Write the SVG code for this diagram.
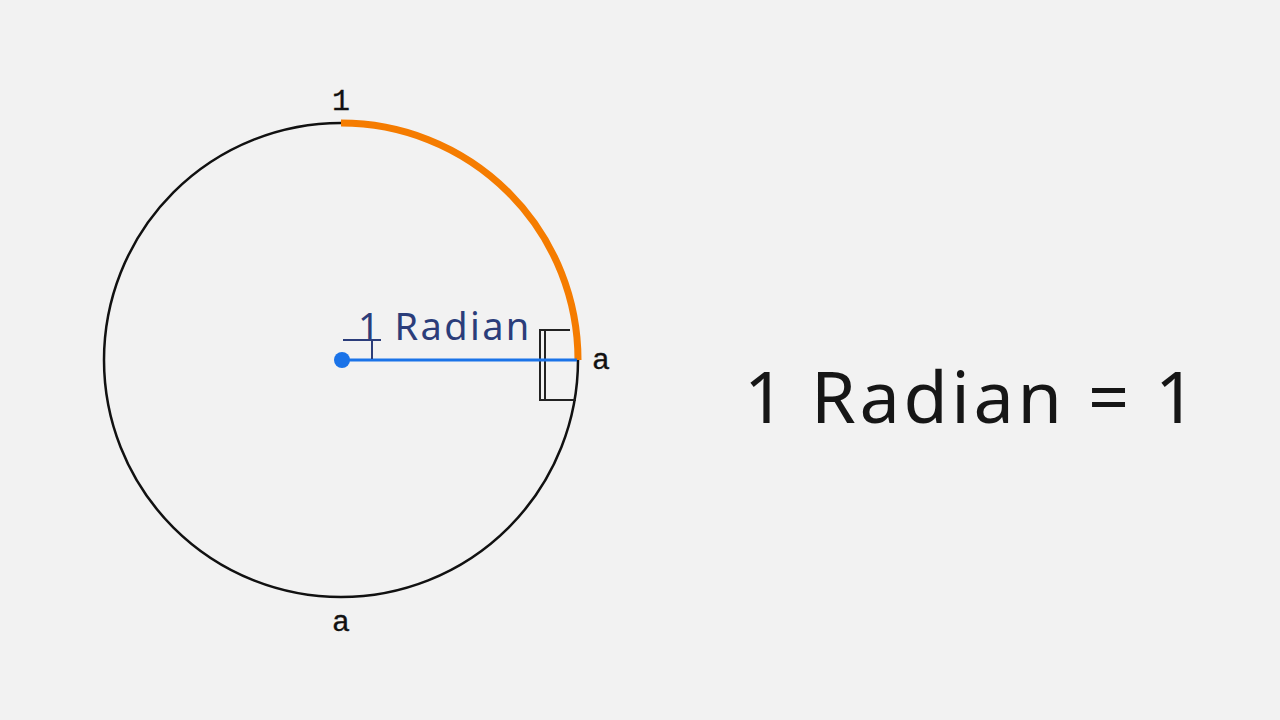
<svg xmlns="http://www.w3.org/2000/svg" width="1280" height="720" viewBox="0 0 1280 720">
<style>
.lbl{font-family:"Liberation Mono",monospace;fill:#111;stroke:#111;stroke-width:0.35px;font-size:30px;text-anchor:middle}
.big{font-family:"Noto Sans","Open Sans",sans-serif;fill:#161616;font-size:72px;letter-spacing:3.6px}
.rad{font-family:"Noto Sans","Open Sans",sans-serif;fill:#2b3d7a;font-size:38px;letter-spacing:2.4px}
</style>
<rect width="1280" height="720" fill="#f2f2f2"/>
<g id="circle">
<circle cx="341" cy="360" r="237" fill="none" stroke="#111" stroke-width="2.5"/>
</g>
<g id="arc">
<path d="M341 123 A237 237 0 0 1 578 360" fill="none" stroke="#f57c00" stroke-width="7"/>
</g>
<g id="bracket" fill="none" stroke="#222" stroke-width="2">
<path d="M570 330 H540 V400 H576"/>
<path d="M545 330 V400"/>
</g>
<g id="radius">
<line x1="342" y1="360" x2="577" y2="360" stroke="#1a73e8" stroke-width="3"/>
<circle cx="342" cy="360" r="8" fill="#1a73e8"/>
</g>
<g id="radian-label">
<text class="rad" x="358" y="340">1 Radian</text>
<path d="M343 340 H381 M372 340 V359" stroke="#2b3d7a" stroke-width="2" fill="none"/>
</g>
<g id="labels">
<text class="lbl" x="341" y="110">1</text>
<text class="lbl" x="601" y="369">a</text>
<text class="lbl" x="341" y="631">a</text>
</g>
<g id="equation">
<text class="big" x="744" y="423">1 Radian = 1</text>
</g>
</svg>
